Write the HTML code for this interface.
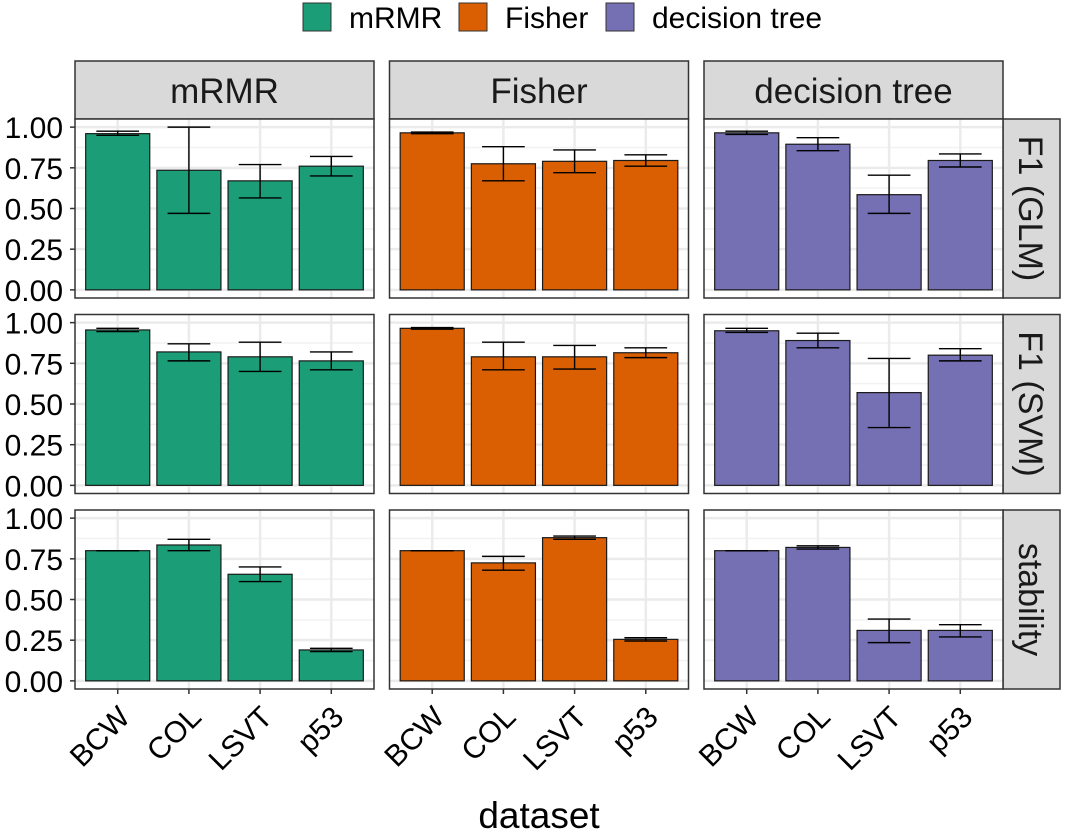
<!DOCTYPE html>
<html><head><meta charset="utf-8"><style>
body{margin:0;background:#fff}
svg{display:block;font-family:"Liberation Sans",Arial,sans-serif}
</style></head><body>
<svg id="chart" width="1065" height="832" viewBox="0 0 1065 832" xmlns="http://www.w3.org/2000/svg">
<g id="legend">
 <g><rect x="303" y="3" width="28" height="28" fill="#1B9E77" stroke="#333" stroke-width="1"/><text x="349" y="28" font-size="30">mRMR</text></g>
 <g><rect x="459" y="3" width="28" height="28" fill="#D95F02" stroke="#333" stroke-width="1"/><text x="505" y="28" font-size="30">Fisher</text></g>
 <g><rect x="606" y="3" width="28" height="28" fill="#7570B3" stroke="#333" stroke-width="1"/><text x="652" y="28" font-size="30">decision tree</text></g>
</g>
<text x="539" y="828" font-size="37" text-anchor="middle">dataset</text>
</svg>
<script>
const methods = ["mRMR","Fisher","decision tree"];
const metrics = ["F1 (GLM)","F1 (SVM)","stability"];
const categories = ["BCW","COL","LSVT","p53"];
const colors = ["#1B9E77","#D95F02","#7570B3"];
const yTicks = [0,0.25,0.5,0.75,1];
const yTickLabels = ["0.00","0.25","0.50","0.75","1.00"];
// values[metric][method][category]
const meanGLM = [[0.96,0.735,0.67,0.76],[0.965,0.775,0.79,0.795],[0.965,0.895,0.585,0.795]];
const loGLM   = [[0.95,0.47,0.565,0.70],[0.96,0.67,0.72,0.76],[0.955,0.855,0.47,0.755]];
const hiGLM   = [[0.975,1.0,0.77,0.82],[0.97,0.88,0.86,0.83],[0.975,0.935,0.705,0.835]];
const meanSVM = [[0.955,0.82,0.79,0.765],[0.965,0.79,0.79,0.815],[0.95,0.89,0.57,0.80]];
const loSVM   = [[0.945,0.765,0.70,0.71],[0.96,0.71,0.715,0.785],[0.94,0.845,0.355,0.765]];
const hiSVM   = [[0.965,0.87,0.88,0.82],[0.97,0.88,0.86,0.845],[0.965,0.935,0.78,0.84]];
const meanStab = [[0.80,0.835,0.655,0.19],[0.80,0.725,0.88,0.255],[0.80,0.82,0.31,0.31]];
const loStab   = [[0.80,0.80,0.61,0.18],[0.80,0.68,0.87,0.245],[0.80,0.81,0.235,0.27]];
const hiStab   = [[0.80,0.87,0.70,0.20],[0.80,0.765,0.89,0.265],[0.80,0.83,0.38,0.345]];
const means=[meanGLM,meanSVM,meanStab], los=[loGLM,loSVM,loStab], his=[hiGLM,hiSVM,hiStab];

const NS="http://www.w3.org/2000/svg";
const svg=document.getElementById("chart");
function mk(tag,attrs,parent){const e=document.createElementNS(NS,tag);for(const k in attrs)e.setAttribute(k,attrs[k]);(parent||svg).appendChild(e);return e;}
const colX=[75,389.5,704], panelW=299;
const rowY=[119,314.5,510], panelH=179;
const stripTop=61;
function xScale(c,i){return colX[c]+(i+1-0.4)*panelW/4.2;}
function yScale(r,v){return rowY[r]+panelH-(v+0.05)*panelH/1.1;}

for(let c=0;c<3;c++){
  const st=mk("g",{});
  
  
  mk("rect",{x:colX[c],y:stripTop,width:panelW,height:rowY[0]-stripTop,fill:"#D9D9D9",stroke:"#333","stroke-width":1.5},st);
  const t=mk("text",{x:colX[c]+panelW/2,y:stripTop+42,"font-size":35,"text-anchor":"middle",fill:"#1a1a1a"},st);t.textContent=methods[c];
}
for(let r=0;r<3;r++){
  const st=mk("g",{});
  
  
  mk("rect",{x:1003,y:rowY[r],width:57,height:panelH,fill:"#D9D9D9",stroke:"#333","stroke-width":1.5},st);
  const cx=1031, cy=rowY[r]+panelH/2;
  const t=mk("text",{x:cx,y:cy+12,"font-size":34,"text-anchor":"middle",fill:"#1a1a1a",transform:`rotate(90 ${cx} ${cy})`},st);t.textContent=metrics[r];
}
for(let r=0;r<3;r++){
  for(let c=0;c<3;c++){
    const g=mk("g",{});
    
    
    const x0=colX[c],y0=rowY[r];
    mk("rect",{x:x0,y:y0,width:panelW,height:panelH,fill:"#fff"},g);
    for(let k=0;k<yTicks.length-1;k++){const y=yScale(r,(yTicks[k]+yTicks[k+1])/2);mk("line",{x1:x0,x2:x0+panelW,y1:y,y2:y,stroke:"#F2F2F2","stroke-width":1.5},g);}
    yTicks.forEach(v=>{const y=yScale(r,v);mk("line",{x1:x0,x2:x0+panelW,y1:y,y2:y,stroke:"#EBEBEB","stroke-width":2.5},g);});
    categories.forEach((_,i)=>{const x=xScale(c,i);mk("line",{x1:x,x2:x,y1:y0,y2:y0+panelH,stroke:"#EBEBEB","stroke-width":2.5},g);});
    categories.forEach((cat,i)=>{
      const xc=xScale(c,i),bw=0.9*panelW/4.2;
      const v=means[r][c][i];
      const b=mk("rect",{x:xc-bw/2,y:yScale(r,v),width:bw,height:yScale(r,0)-yScale(r,v),fill:colors[c],stroke:"#1a1a1a","stroke-width":1.2},g);
      
      
      const eg=mk("g",{stroke:"#000","stroke-width":1.4,fill:"none"},g);
      
      
      const yl=yScale(r,los[r][c][i]),yh=yScale(r,his[r][c][i]),hw=0.3*panelW/4.2;
      mk("line",{x1:xc,x2:xc,y1:yl,y2:yh},eg);
      mk("line",{x1:xc-hw,x2:xc+hw,y1:yl,y2:yl},eg);
      mk("line",{x1:xc-hw,x2:xc+hw,y1:yh,y2:yh},eg);
    });
    mk("rect",{x:x0,y:y0,width:panelW,height:panelH,fill:"none",stroke:"#333","stroke-width":1.5},g);
    if(c===0){
      const ax=mk("g",{});
      
      
      yTicks.forEach((v,k)=>{const y=yScale(r,v);
        mk("line",{x1:x0-5,x2:x0,y1:y,y2:y,stroke:"#333","stroke-width":1.5},ax);
        const t=mk("text",{x:x0-12,y:y+11,"font-size":30,"text-anchor":"end",fill:"#000"},ax);t.textContent=yTickLabels[k];});
    }
    if(r===2){
      const ax=mk("g",{});
      
      
      categories.forEach((cat,i)=>{const x=xScale(c,i),yb=y0+panelH;
        mk("line",{x1:x,x2:x,y1:yb,y2:yb+5,stroke:"#333","stroke-width":1.5},ax);
        const tx=x+14,ty=yb+30;
        const t=mk("text",{x:tx,y:ty,"font-size":30,"text-anchor":"end",fill:"#000",transform:`rotate(-45 ${tx} ${ty})`},ax);t.textContent=cat;});
    }
  }
}
</script>
</body></html>
